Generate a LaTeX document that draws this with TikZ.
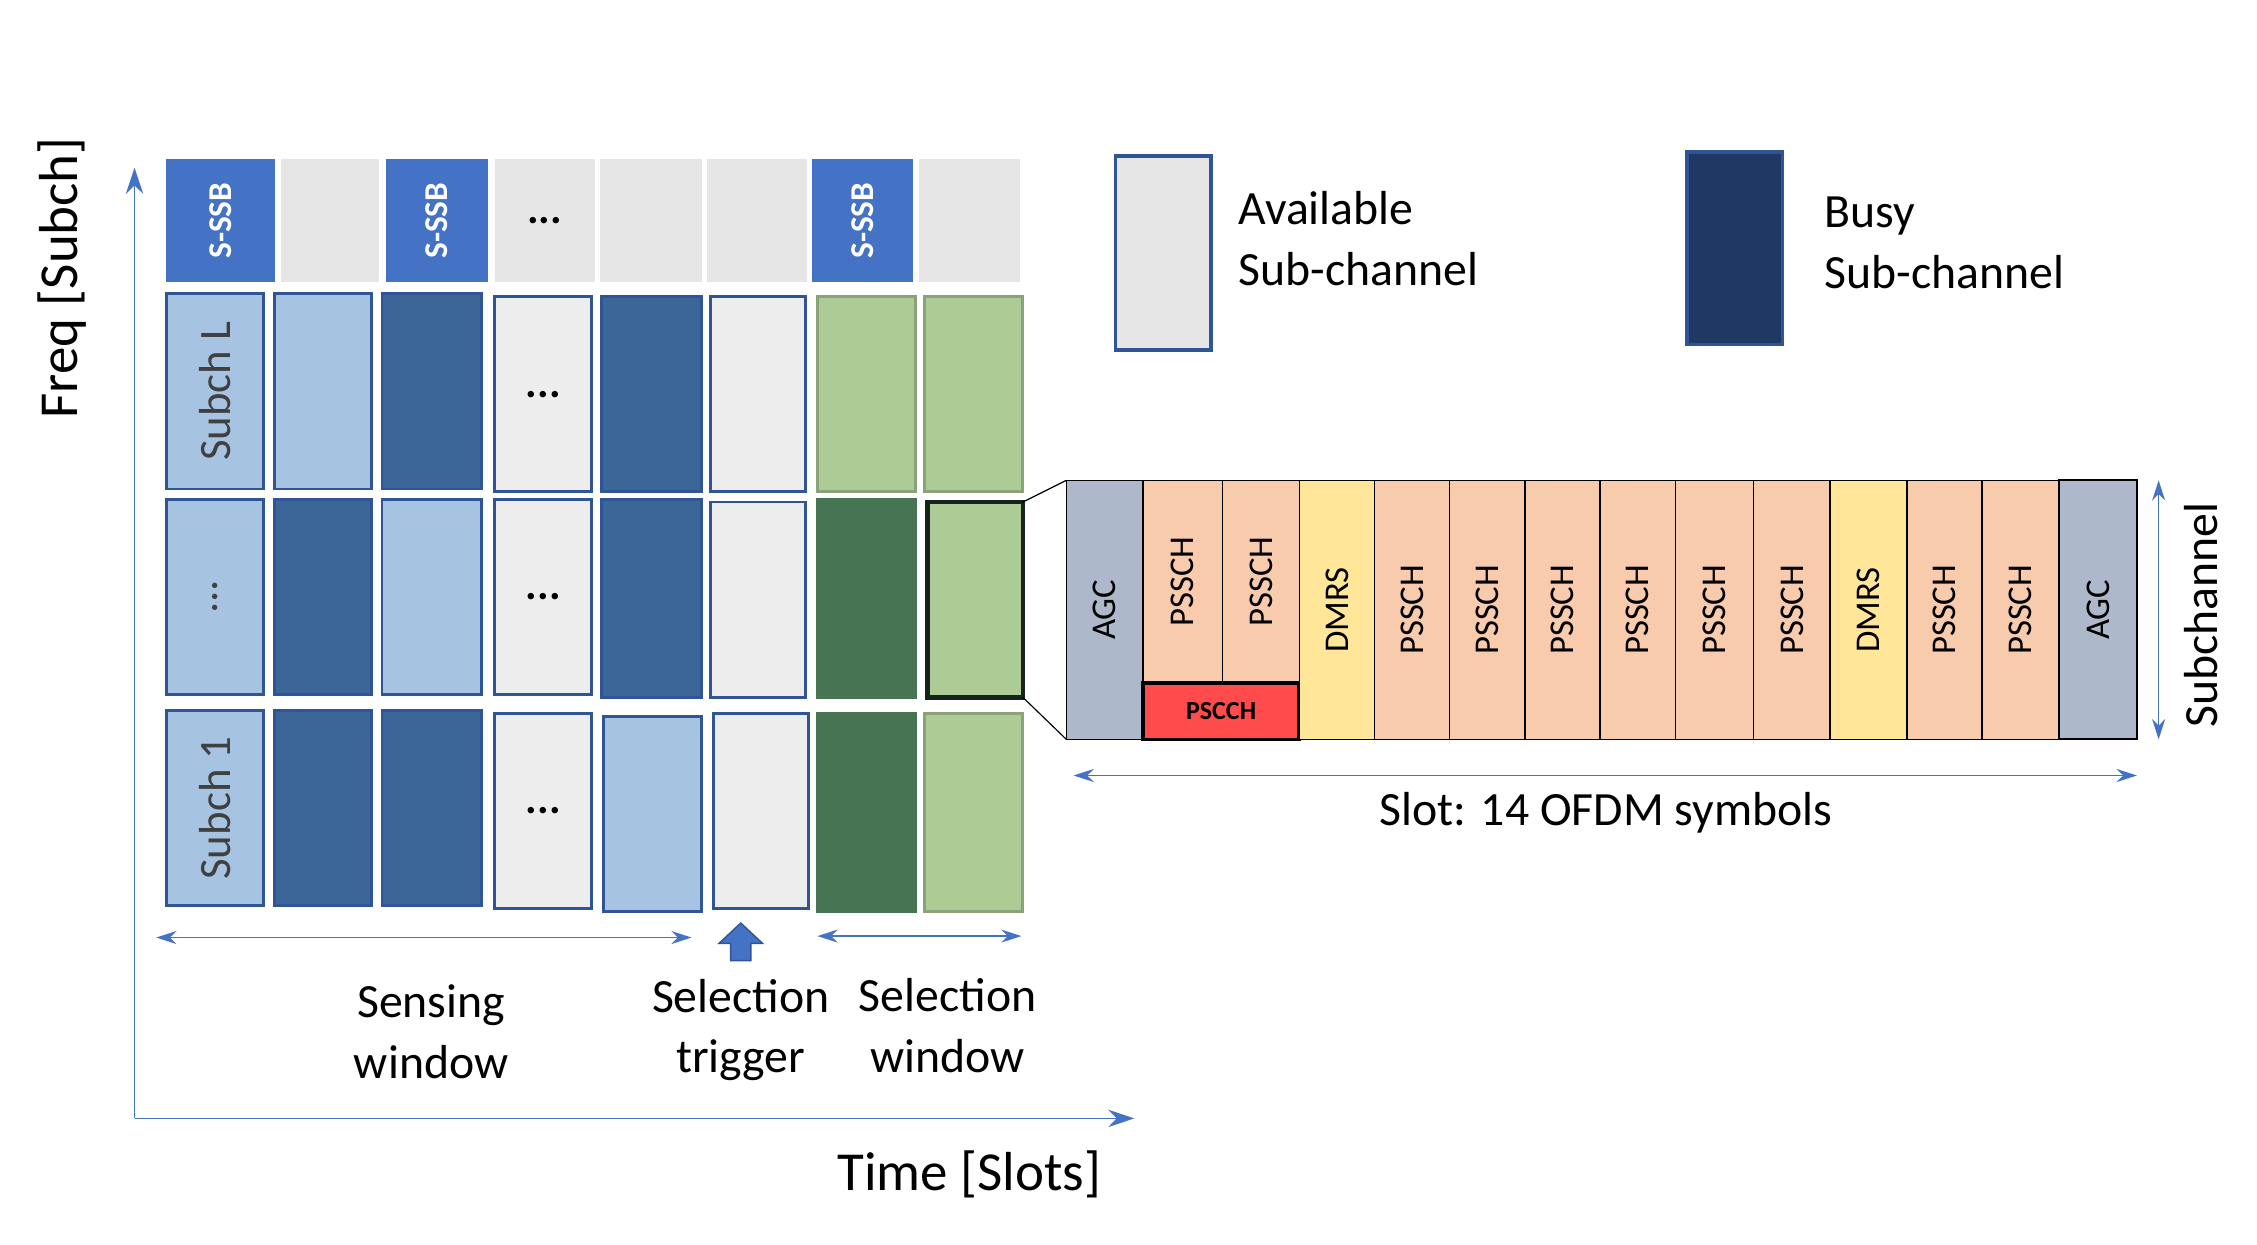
\documentclass[tikz,border=0pt]{standalone}
\usepackage{fontspec}
\setmainfont{Carlito}
\usetikzlibrary{arrows.meta}
\definecolor{ssb}{HTML}{4472C4}
\definecolor{gry}{HTML}{E7E6E6}
\definecolor{lb}{HTML}{A6C3E2}
\definecolor{db}{HTML}{3D6698}
\definecolor{wh}{HTML}{EDEDED}
\definecolor{bd}{HTML}{2F5597}
\definecolor{lg}{HTML}{ADCB95}
\definecolor{dg}{HTML}{477553}
\definecolor{navy}{HTML}{1F3864}
\definecolor{agc}{HTML}{ADB9CA}
\definecolor{pssch}{HTML}{F8CBAD}
\definecolor{dmrs}{HTML}{FFE699}
\definecolor{pscch}{HTML}{FF4B4B}
\definecolor{ax}{HTML}{4472C4}
\newcommand\bx[7]{\node[#6, minimum width={#4-#2}, minimum height={#5-#3}] (#1) at ({(#2+#4)/2},{(#3+#5)/2}) {#7};}
\begin{document}
\begin{tikzpicture}[x=1pt,y=-1pt,
  every node/.style={inner sep=0pt,outer sep=0pt},
  cell/.style={draw=bd,line width=2pt},
  top/.style={fill=gry},
  topb/.style={fill=ssb,text=white,font=\bfseries\fontsize{23}{23}\selectfont},
  dots/.style={font=\bfseries\fontsize{30}{30}\selectfont},
  lab/.style={text=black!75,font=\fontsize{31}{31}\selectfont},
  sym/.style={draw=black,line width=1pt,font=\fontsize{24}{24}\selectfont},
  big/.style={font=\fontsize{33}{42}\selectfont,align=center},
  huge/.style={font=\fontsize{38}{38}\selectfont},
  arr/.style={draw=ax,line width=1pt,{Stealth[length=14pt,width=9pt]}-{Stealth[length=14pt,width=9pt]}},
  ax1/.style={draw=ax,line width=1pt,-{Stealth[length=18pt,width=12pt]}}]
\useasboundingbox (0,0) rectangle (1560,860);
% top row
\bx{t1}{115}{110}{190}{195}{topb}{\rotatebox{90}{S-SSB}}
\bx{t2}{194}{110}{262}{195}{top}{}
\bx{t3}{267}{110}{337}{195}{topb}{\rotatebox{90}{S-SSB}}
\bx{t4}{342}{110}{411}{195}{top,dots}{...}
\bx{t5}{415}{110}{485}{195}{top}{}
\bx{t6}{489}{110}{558}{195}{top}{}
\bx{t7}{561}{110}{631}{195}{topb}{\rotatebox{90}{S-SSB}}
\bx{t8}{635}{110}{705}{195}{top}{}
% row L
\bx{a1}{115}{203}{182}{338}{cell,fill=lb,lab}{\rotatebox{90}{Subch L}}
\bx{a2}{190}{203}{257}{338}{cell,fill=lb}{}
\bx{a3}{264}{203}{333}{338}{cell,fill=db}{}
\bx{a4}{342}{205}{409}{340}{cell,fill=wh,dots}{...}
\bx{a5}{416}{205}{485}{340}{cell,fill=db}{}
\bx{a6}{491}{205}{557}{340}{cell,fill=wh}{}
\bx{a7}{565}{205}{633}{340}{cell,draw=lg!80!black,fill=lg}{}
\bx{a8}{639}{205}{707}{340}{cell,draw=lg!80!black,fill=lg}{}
% row mid
\bx{b1}{115}{345}{182}{480}{cell,fill=lb,lab}{\rotatebox{90}{...}}
\bx{b2}{190}{345}{257}{480}{cell,fill=db}{}
\bx{b3}{264}{345}{333}{480}{cell,fill=lb}{}
\bx{b4}{342}{345}{409}{480}{cell,fill=wh,dots}{...}
\bx{b5}{416}{345}{485}{482}{cell,fill=db}{}
\bx{b6}{491}{347}{557}{482}{cell,fill=wh}{}
\bx{b7}{565}{345}{633}{482}{cell,draw=dg,fill=dg}{}
\bx{b8}{641}{347}{707}{482}{cell,draw=black!70!dg,line width=3pt,fill=lg}{}
% row 1
\bx{c1}{115}{491}{182}{626}{cell,fill=lb,lab}{\rotatebox{90}{Subch 1}}
\bx{c2}{190}{491}{257}{626}{cell,fill=db}{}
\bx{c3}{264}{491}{333}{626}{cell,fill=db}{}
\bx{c4}{342}{493}{409}{628}{cell,fill=wh,dots}{...}
\bx{c5}{417}{495}{485}{630}{cell,fill=lb}{}
\bx{c6}{493}{493}{559}{628}{cell,fill=wh}{}
\bx{c7}{565}{493}{633}{630}{cell,draw=dg,fill=dg}{}
\bx{c8}{639}{493}{707}{630}{cell,draw=lg!80!black,fill=lg}{}
% axes
\coordinate (o) at (93,773);
\coordinate (yt) at (93,116);
\coordinate (xt) at (784,773);
\draw[ax1] (o) -- (yt);
\draw[ax1] (o) -- (xt);
\node[huge,rotate=90] (freq) at (43,192) {Freq [Subch]};
\node[huge] (time) at (670,812) {Time [Slots]};
% windows
\coordinate (s1) at (108,648); \coordinate (s2) at (478,648);
\draw[arr] (s1) -- (s2);
\node[big] (sens) at (298,713) {Sensing\\window};
\draw[draw=bd,fill=ssb,line width=1pt] (505,664) -- (505,652) -- (497,652) -- (512,638) -- (527,652) -- (519,652) -- (519,664) -- cycle;
\node[big] (trig) at (512,712) {Selection\\trigger};
\coordinate (w1) at (565,647); \coordinate (w2) at (706,647);
\draw[arr] (w1) -- (w2);
\node[big] (selw) at (655,709) {Selection\\window};
% legend
\bx{la}{771}{108}{837}{242}{draw=bd,line width=2.5pt,fill=gry}{}
\node[big,anchor=west,align=left] (lat) at (856,165) {Available\\Sub-channel};
\bx{lb}{1166}{105}{1232}{238}{draw=bd,line width=2.5pt,fill=navy}{}
\node[big,anchor=west,align=left] (lbt) at (1261,168) {Busy\\Sub-channel};
% slot
\bx{s0}{737}{332}{790}{511}{sym,fill=agc}{\rotatebox{90}{AGC}}
\bx{p1}{790}{332}{845}{472}{sym,fill=pssch}{\rotatebox{90}{PSSCH}}
\bx{p2}{845}{332}{898}{472}{sym,fill=pssch}{\rotatebox{90}{PSSCH}}
\bx{pc}{790}{472}{898}{511}{draw=black,line width=2.5pt,fill=pscch,font=\bfseries\fontsize{18}{18}\selectfont}{PSCCH}
\bx{d1}{898}{332}{950}{511}{sym,fill=dmrs}{\rotatebox{90}{DMRS}}
\bx{p3}{950}{332}{1002}{511}{sym,fill=pssch}{\rotatebox{90}{PSSCH}}
\bx{p4}{1002}{332}{1054}{511}{sym,fill=pssch}{\rotatebox{90}{PSSCH}}
\bx{p5}{1054}{332}{1106}{511}{sym,fill=pssch}{\rotatebox{90}{PSSCH}}
\bx{p6}{1106}{332}{1158}{511}{sym,fill=pssch}{\rotatebox{90}{PSSCH}}
\bx{p7}{1158}{332}{1212}{511}{sym,fill=pssch}{\rotatebox{90}{PSSCH}}
\bx{p8}{1212}{332}{1265}{511}{sym,fill=pssch}{\rotatebox{90}{PSSCH}}
\bx{d2}{1265}{332}{1318}{511}{sym,fill=dmrs}{\rotatebox{90}{DMRS}}
\bx{p9}{1318}{332}{1370}{511}{sym,fill=pssch}{\rotatebox{90}{PSSCH}}
\bx{p10}{1370}{332}{1423}{511}{sym,fill=pssch}{\rotatebox{90}{PSSCH}}
\bx{s1}{1423}{332}{1477}{511}{sym,fill=agc,line width=1.5pt}{\rotatebox{90}{AGC}}
\draw[black,line width=0.8pt] (b8.north east) -- (s0.north west);
\draw[black,line width=0.8pt] (b8.south east) -- (s0.south west);
\coordinate (sl1) at (742,536); \coordinate (sl2) at (1477,536);
\draw[arr] (sl1) -- (sl2);
\node[big] (slt) at (1110,562) {Slot: 14 OFDM symbols};
\coordinate (v1) at (1492,332); \coordinate (v2) at (1492,511);
\draw[arr] (v1) -- (v2);
\node[big,rotate=90] (subc) at (1521,425) {Subchannel};
\end{tikzpicture}
\end{document}
